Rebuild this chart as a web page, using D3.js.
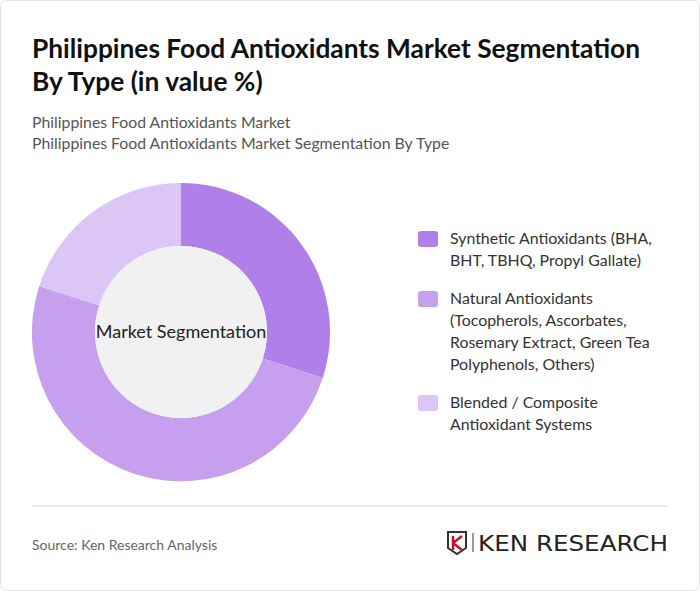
<!DOCTYPE html>
<html><head><meta charset="utf-8">
<script src="https://cdn.jsdelivr.net/npm/d3@7"></script>
<style>
body{margin:0;background:#fff;font-family:Lato,sans-serif;}
</style></head><body>
<svg id="chart" width="700" height="591"></svg>
<script>
// data
const categories = ["Synthetic Antioxidants (BHA, BHT, TBHQ, Propyl Gallate)",
  "Natural Antioxidants (Tocopherols, Ascorbates, Rosemary Extract, Green Tea Polyphenols, Others)",
  "Blended / Composite Antioxidant Systems"];
const values = [30, 50, 20];
const colors = ["#b17fea", "#c6a0ee", "#dcc6f6"];
const legendLines = [
  ["Synthetic Antioxidants (BHA,", "BHT, TBHQ, Propyl Gallate)"],
  ["Natural Antioxidants", "(Tocopherols, Ascorbates,", "Rosemary Extract, Green Tea", "Polyphenols, Others)"],
  ["Blended / Composite", "Antioxidant Systems"]];

const svg = d3.select("#chart");
svg.append("rect").attr("x", 0.5).attr("y", 0.5).attr("width", 699).attr("height", 590)
  .attr("rx", 6).attr("fill", "#fff").attr("stroke", "#e3e3e3");

// titles
svg.append("text").attr("x", 32).attr("y", 58).attr("font-size", 26.3).attr("font-weight", 700)
  .attr("fill", "#111").text("Philippines Food Antioxidants Market Segmentation");
svg.append("text").attr("x", 32).attr("y", 91).attr("font-size", 26.3).attr("font-weight", 700)
  .attr("fill", "#111").text("By Type (in value %)");
svg.append("text").attr("x", 32).attr("y", 128).attr("font-size", 15.8).attr("fill", "#555")
  .text("Philippines Food Antioxidants Market");
svg.append("text").attr("x", 32).attr("y", 149).attr("font-size", 15.8).attr("fill", "#555")
  .text("Philippines Food Antioxidants Market Segmentation By Type");

// donut
const cx = 181, cy = 332;
const pie = d3.pie().sort(null).value(d => d);
const arc = d3.arc().innerRadius(86).outerRadius(149);
const g = svg.append("g").attr("transform", `translate(${cx},${cy})`);
g.selectAll("path").data(pie(values)).enter().append("path")
  .attr("d", arc).attr("fill", (d, i) => colors[i]);
g.append("circle").attr("r", 86).attr("fill", "#f1f1f1");
g.append("text").attr("text-anchor", "middle").attr("dy", "0.35em").attr("font-size", 18)
  .attr("fill", "#222").text("Market Segmentation");

// legend
let ly = 239;
legendLines.forEach((lines, i) => {
  svg.append("rect").attr("x", 418).attr("y", ly - 8).attr("width", 20).attr("height", 16)
    .attr("rx", 3).attr("fill", colors[i]);
  lines.forEach((t, j) => {
    svg.append("text").attr("x", 450).attr("y", ly + 5 + j * 22).attr("font-size", 15.9)
      .attr("fill", "#333").text(t);
  });
  ly += lines.length * 22 + 16;
});

// footer
svg.append("line").attr("x1", 32).attr("x2", 668).attr("y1", 506).attr("y2", 506)
  .attr("stroke", "#d5d5dc");
svg.append("text").attr("x", 32).attr("y", 550).attr("font-size", 14).attr("fill", "#666")
  .text("Source: Ken Research Analysis");
const logo = svg.append("g").attr("transform", "translate(448,532)");
logo.append("path").attr("d", "M0,0 H18 V16 L9,22 L0,16 Z").attr("fill", "none").attr("stroke", "#333").attr("stroke-width", 2);
logo.append("path").attr("d", "M5,4 V18 M5,11 L14,4 M5,11 L14,18").attr("stroke", "#c8102e").attr("stroke-width", 2.5).attr("fill", "none");
logo.append("line").attr("x1", 25).attr("x2", 25).attr("y1", 1).attr("y2", 20).attr("stroke", "#333");
logo.append("text").attr("x", 30).attr("y", 19).attr("font-size", 21).attr("font-family", "'DejaVu Sans', sans-serif")
  .attr("fill", "#222").attr("textLength", 190).attr("lengthAdjust", "spacingAndGlyphs").text("KEN RESEARCH");
</script></body></html>
